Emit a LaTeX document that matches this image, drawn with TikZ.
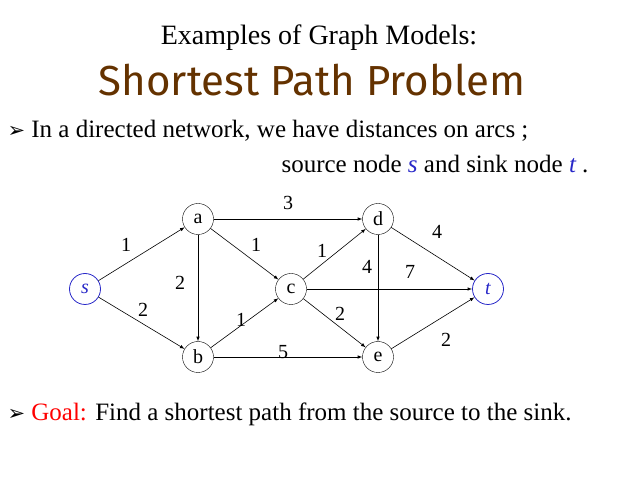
\documentclass[tikz,border=0pt]{standalone}
\usepackage{fontspec}
\setmainfont{Liberation Serif}
\newfontfamily\titlefont{Fira Sans}
\newfontfamily\dejavu{DejaVu Sans}
\definecolor{brn}{RGB}{100,50,0}
\definecolor{blu}{RGB}{40,40,200}
\begin{document}
\begin{tikzpicture}[x=1pt,y=-1pt,
  vert/.style={circle,draw,minimum size=31pt,inner sep=0pt,font=\fontsize{20}{22}\selectfont},
  term/.style={vert,draw=blu,thick,text=blu,font=\fontsize{20}{22}\selectfont\itshape},
  arc/.style={-latex,semithick},
  wt/.style={font=\fontsize{20}{22}\selectfont}]
\useasboundingbox (0,0) rectangle (638,478);
\node[font=\fontsize{28}{32}\selectfont] (h1) at (319,38) {Examples of Graph Models:};
\node[font=\titlefont\fontsize{42}{48}\selectfont,text=brn] (h2) at (312,80) {Shortest Path Problem};
\node[anchor=base west,font=\fontsize{25}{28}\selectfont] (l1) at (4,138) {{\dejavu\fontsize{21}{24}\selectfont ➢} In a directed network, we have distances on arcs ;};
\node[anchor=base east,font=\fontsize{25}{28}\selectfont] (l2) at (592,173) {source node \textcolor{blu}{\itshape s} and sink node \textcolor{blu}{\itshape t} .};
\node[anchor=base west,font=\fontsize{25}{28}\selectfont] (l3) at (4,421) {{\dejavu\fontsize{21}{24}\selectfont ➢} \textcolor{red}{Goal:} Find a shortest path from the source to the sink.};
\node[term] (s) at (85,289) {s};
\node[vert] (a) at (198,219) {a};
\node[vert] (b) at (198,357) {b};
\node[vert] (c) at (291,289) {c};
\node[vert] (d) at (378,219) {d};
\node[vert] (e) at (378,357) {e};
\node[term] (t) at (488,289) {t};
\draw[arc] (s)--(a); \draw[arc] (s)--(b);
\draw[arc] (a)--(d); \draw[arc] (a)--(c); \draw[arc] (a)--(b);
\draw[arc] (b)--(c); \draw[arc] (b)--(e);
\draw[arc] (c)--(d); \draw[arc] (c)--(e); \draw[arc] (c)--(t);
\draw[arc] (d)--(t); \draw[arc] (d)--(e); \draw[arc] (e)--(t);
\node[wt] (w1) at (288,203) {3};
\node[wt] (w2) at (126,245) {1};
\node[wt] (w3) at (256,245) {1};
\node[wt] (w4) at (322,251) {1};
\node[wt] (w5) at (437,232) {4};
\node[wt] (w6) at (367,267) {4};
\node[wt] (w7) at (410,272) {7};
\node[wt] (w8) at (180,283) {2};
\node[wt] (w9) at (143,310) {2};
\node[wt] (w10) at (241,320) {1};
\node[wt] (w11) at (340,314) {2};
\node[wt] (w12) at (446,340) {2};
\node[wt] (w13) at (283,352) {5};
\end{tikzpicture}
\end{document}
